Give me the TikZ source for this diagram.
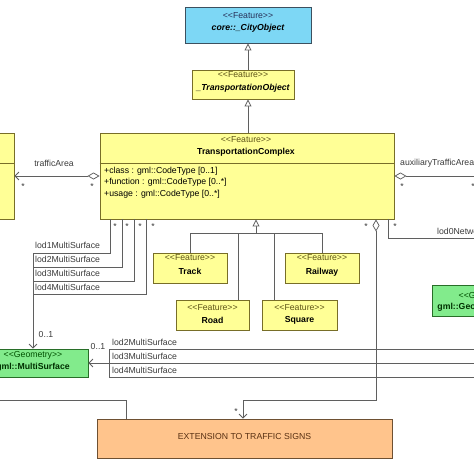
\documentclass[tikz,border=0pt]{standalone}
\usepackage{fontspec}
\setmainfont{Liberation Sans}
\usetikzlibrary{arrows.meta}
\definecolor{ylw}{RGB}{255,255,150}
\definecolor{ylwb}{RGB}{120,110,40}
\definecolor{ylwt}{RGB}{95,85,25}
\definecolor{blu}{RGB}{125,215,245}
\definecolor{blub}{RGB}{60,80,95}
\definecolor{blut}{RGB}{40,50,90}
\definecolor{grn}{RGB}{130,235,140}
\definecolor{grnb}{RGB}{40,110,40}
\definecolor{grnt}{RGB}{0,80,0}
\definecolor{org}{RGB}{255,196,140}
\definecolor{orgb}{RGB}{110,80,50}
\definecolor{orgt}{RGB}{90,50,20}
\definecolor{ln}{RGB}{95,95,95}
\definecolor{txt}{RGB}{60,60,60}
\newcommand\myfs{\fontsize{8.7}{10.4}\selectfont}
\newcommand\stereo[1]{<\kern0pt<#1>\kern0pt>}
\begin{document}
\begin{tikzpicture}[x=1pt,y=-1pt,
  box/.style={rectangle, inner sep=0pt, line width=0.9pt, anchor=center},
  ybox/.style={box, draw=ylwb, fill=ylw},
  bbox/.style={box, draw=blub, fill=blu},
  gbox/.style={box, draw=grnb, fill=grn},
  obox/.style={box, draw=orgb, fill=org},
  conn/.style={draw=ln, line width=0.75pt},
  lbl/.style={font=\myfs, text=txt, inner sep=0pt},
  ster/.style={font=\myfs, text=ylwt, inner sep=0pt},
  cname/.style={font=\myfs\bfseries, inner sep=0pt},
  inh/.style={{Triangle[fill=white,length=7pt,width=7pt]}-},
  agg/.style={{Diamond[fill=white,length=12pt,width=7pt]}-},
  nav/.style={-{Straight Barb[length=4pt,width=8pt]}},
  aggnav/.style={{Diamond[fill=white,length=12pt,width=7pt]}-{Straight Barb[length=4pt,width=8pt]}},
]
\useasboundingbox (0,0) rectangle (474,474);
\clip (0,0) rectangle (474,474);
\fill[white] (0,0) rectangle (474,474);

% class boxes
\node[bbox, minimum width=126pt, minimum height=36pt] (city) at (248,25) {};
\node[ster, text=blut] (cityst) at (248,16) {\stereo{Feature}};
\node[cname, font=\myfs\bfseries\itshape] (cityn) at (248,28) {core::\_CityObject};

\node[ybox, minimum width=102pt, minimum height=29pt] (tobj) at (243,84.5) {};
\node[ster] (tobjst) at (243,75) {\stereo{Feature}};
\node[cname, font=\myfs\bfseries\itshape] (tobjn) at (243,88) {\_TransportationObject};

\node[ybox, minimum width=294pt, minimum height=86pt] (tc) at (247,176) {};
\draw[draw=ylwb, line width=0.9pt] (tc.west |- 0,163) coordinate (tcdl) -- (tc.east |- 0,163) coordinate (tcdr);
\node[ster] (tcst) at (246,140) {\stereo{Feature}};
\node[cname] (tcn) at (246,152) {TransportationComplex};
\node[lbl, text=black, anchor=west] (tca1) at (104,171) {+class : gml::CodeType [0..1]};
\node[lbl, text=black, anchor=west] (tca2) at (104,182.5) {+function : gml::CodeType [0..*]};
\node[lbl, text=black, anchor=west] (tca3) at (104,194) {+usage : gml::CodeType [0..*]};

\node[ybox, minimum width=34pt, minimum height=86pt] (lbox) at (-3,176) {};
\draw[draw=ylwb, line width=0.9pt] (lbox.west |- 0,163) coordinate (lbdl) -- (lbox.east |- 0,163) coordinate (lbdr);

\node[ybox, minimum width=74pt, minimum height=30pt] (track) at (190,268) {};
\node[ster] (trackst) at (190,257.5) {\stereo{Feature}};
\node[cname] (trackn) at (190,271) {Track};

\node[ybox, minimum width=74pt, minimum height=30pt] (railway) at (322,268) {};
\node[ster] (railwayst) at (322,258) {\stereo{Feature}};
\node[cname] (railwayn) at (322,272) {Railway};

\node[ybox, minimum width=73pt, minimum height=30pt] (road) at (212.5,315) {};
\node[ster] (roadst) at (212.5,308) {\stereo{Feature}};
\node[cname] (roadn) at (212.5,320) {Road};

\node[ybox, minimum width=75pt, minimum height=30pt] (square) at (299.5,315) {};
\node[ster] (squarest) at (299.5,308) {\stereo{Feature}};
\node[cname] (squaren) at (299.5,320) {Square};

\node[gbox, minimum width=110pt, minimum height=28pt] (ms) at (33,363) {};
\node[ster, text=grnt] (msst) at (33,355) {\stereo{Geometry}};
\node[cname, text=grnt!60!black] (msn) at (33,367) {gml::MultiSurface};

\node[gbox, minimum width=112pt, minimum height=31pt] (geo) at (488,300.5) {};
\node[ster, text=grnt] (geost) at (488,296) {\stereo{Geometry}};
\node[cname, text=grnt!60!black] (geon) at (488,307) {gml::GeometricComplex};

\node[obox, minimum width=295pt, minimum height=39pt] (ext) at (244.5,438.5) {};
\node[lbl, text=orgt] (extn) at (244.5,436) {EXTENSION TO TRAFFIC SIGNS};

% generalizations
\draw[conn, inh] (city.south) -- (city.south |- tobj.north);
\draw[conn, inh] (city.south |- tobj.south) -- (city.south |- tc.north);
\coordinate (g) at (256,233);
\coordinate (xroad) at (238,0);
\coordinate (xsq) at (274,0);
\coordinate (xtr) at (190,0);
\coordinate (xrw) at (322,0);
\draw[conn, inh] (g |- tc.south) -- (g);
\draw[conn] (xtr |- track.north) -- (xtr |- g) -- (xrw |- g) -- (xrw |- railway.north);
\draw[conn] (xroad |- road.north) -- (xroad |- g);
\draw[conn] (xsq |- square.north) -- (xsq |- g);

% trafficArea
\draw[conn, aggnav] (tc.west) -- (lbox.east);
\node[lbl] (ta) at (54,163) {trafficArea};
\node[lbl] (tas1) at (23,187) {*};
\node[lbl] (tas2) at (92,187) {*};

% auxiliaryTrafficArea
\coordinate (auxend) at (474,176);
\draw[conn, agg] (tc.east) -- (auxend);
\node[lbl, anchor=west] (ata) at (400,163) {auxiliaryTrafficArea};
\node[lbl] (atas1) at (402,187) {*};
\node[lbl] (atas2) at (473,187) {*};

% lod0Network
\coordinate (l0a) at (388,0);
\coordinate (l0end) at (474,238);
\draw[conn] (l0a |- tc.south) -- (l0a |- l0end) -- (l0end);
\node[lbl] (l0s) at (395,227) {*};
\node[lbl, anchor=west] (l0n) at (437,231) {lod0Network};

% lod1..4 MultiSurface (left)
\coordinate (x1) at (110,0);
\coordinate (x2) at (122,0);
\coordinate (x3) at (134,0);
\coordinate (x4) at (146,0);
\coordinate (j1) at (33,253);
\coordinate (j2) at (33,267);
\coordinate (j3) at (33,281);
\coordinate (j4) at (33,294);
\draw[conn] (x1 |- tc.south) -- (x1 |- j1) -- (j1);
\draw[conn] (x2 |- tc.south) -- (x2 |- j2) -- (j2);
\draw[conn] (x3 |- tc.south) -- (x3 |- j3) -- (j3);
\draw[conn] (x4 |- tc.south) -- (x4 |- j4) -- (j4);
\draw[conn, nav] (j1) -- (ms.north);
\node[lbl] (s1) at (115,227) {*};
\node[lbl] (s2) at (127,227) {*};
\node[lbl] (s3) at (140,227) {*};
\node[lbl] (s4) at (153,227) {*};
\node[lbl, anchor=west] (ll1) at (35,245) {lod1MultiSurface};
\node[lbl, anchor=west] (ll2) at (35,259) {lod2MultiSurface};
\node[lbl, anchor=west] (ll3) at (35,273) {lod3MultiSurface};
\node[lbl, anchor=west] (ll4) at (35,287) {lod4MultiSurface};
\node[lbl] (m1) at (46,335) {0..1};

% lod2..4 MultiSurface (right)
\coordinate (r2) at (474,349);
\coordinate (r3) at (474,363);
\coordinate (r4) at (474,377);
\coordinate (k2) at (109,349);
\coordinate (k4) at (109,377);
\draw[conn] (r2) -- (k2) -- (k4) -- (r4);
\draw[conn, nav] (r3) -- (ms.east);
\node[lbl, anchor=west] (rl2) at (112,342) {lod2MultiSurface};
\node[lbl, anchor=west] (rl3) at (112,356) {lod3MultiSurface};
\node[lbl, anchor=west] (rl4) at (112,370) {lod4MultiSurface};
\node[lbl] (m2) at (98,347) {0..1};

% composition to extension
\coordinate (xd) at (376,0);
\coordinate (xe) at (243,0);
\coordinate (yb) at (0,400);
\draw[conn, aggnav] (xd |- tc.south) -- (xd |- yb) -- (xe |- yb) -- (xe |- ext.north);
\node[lbl] (ds) at (366,227) {*};
\node[lbl] (es) at (236,412) {*};

% left line into extension
\coordinate (xl) at (126,0);
\coordinate (lstart) at (0,400);
\draw[conn] (lstart) -- (xl |- lstart) -- (xl |- ext.north);
\end{tikzpicture}
\end{document}
